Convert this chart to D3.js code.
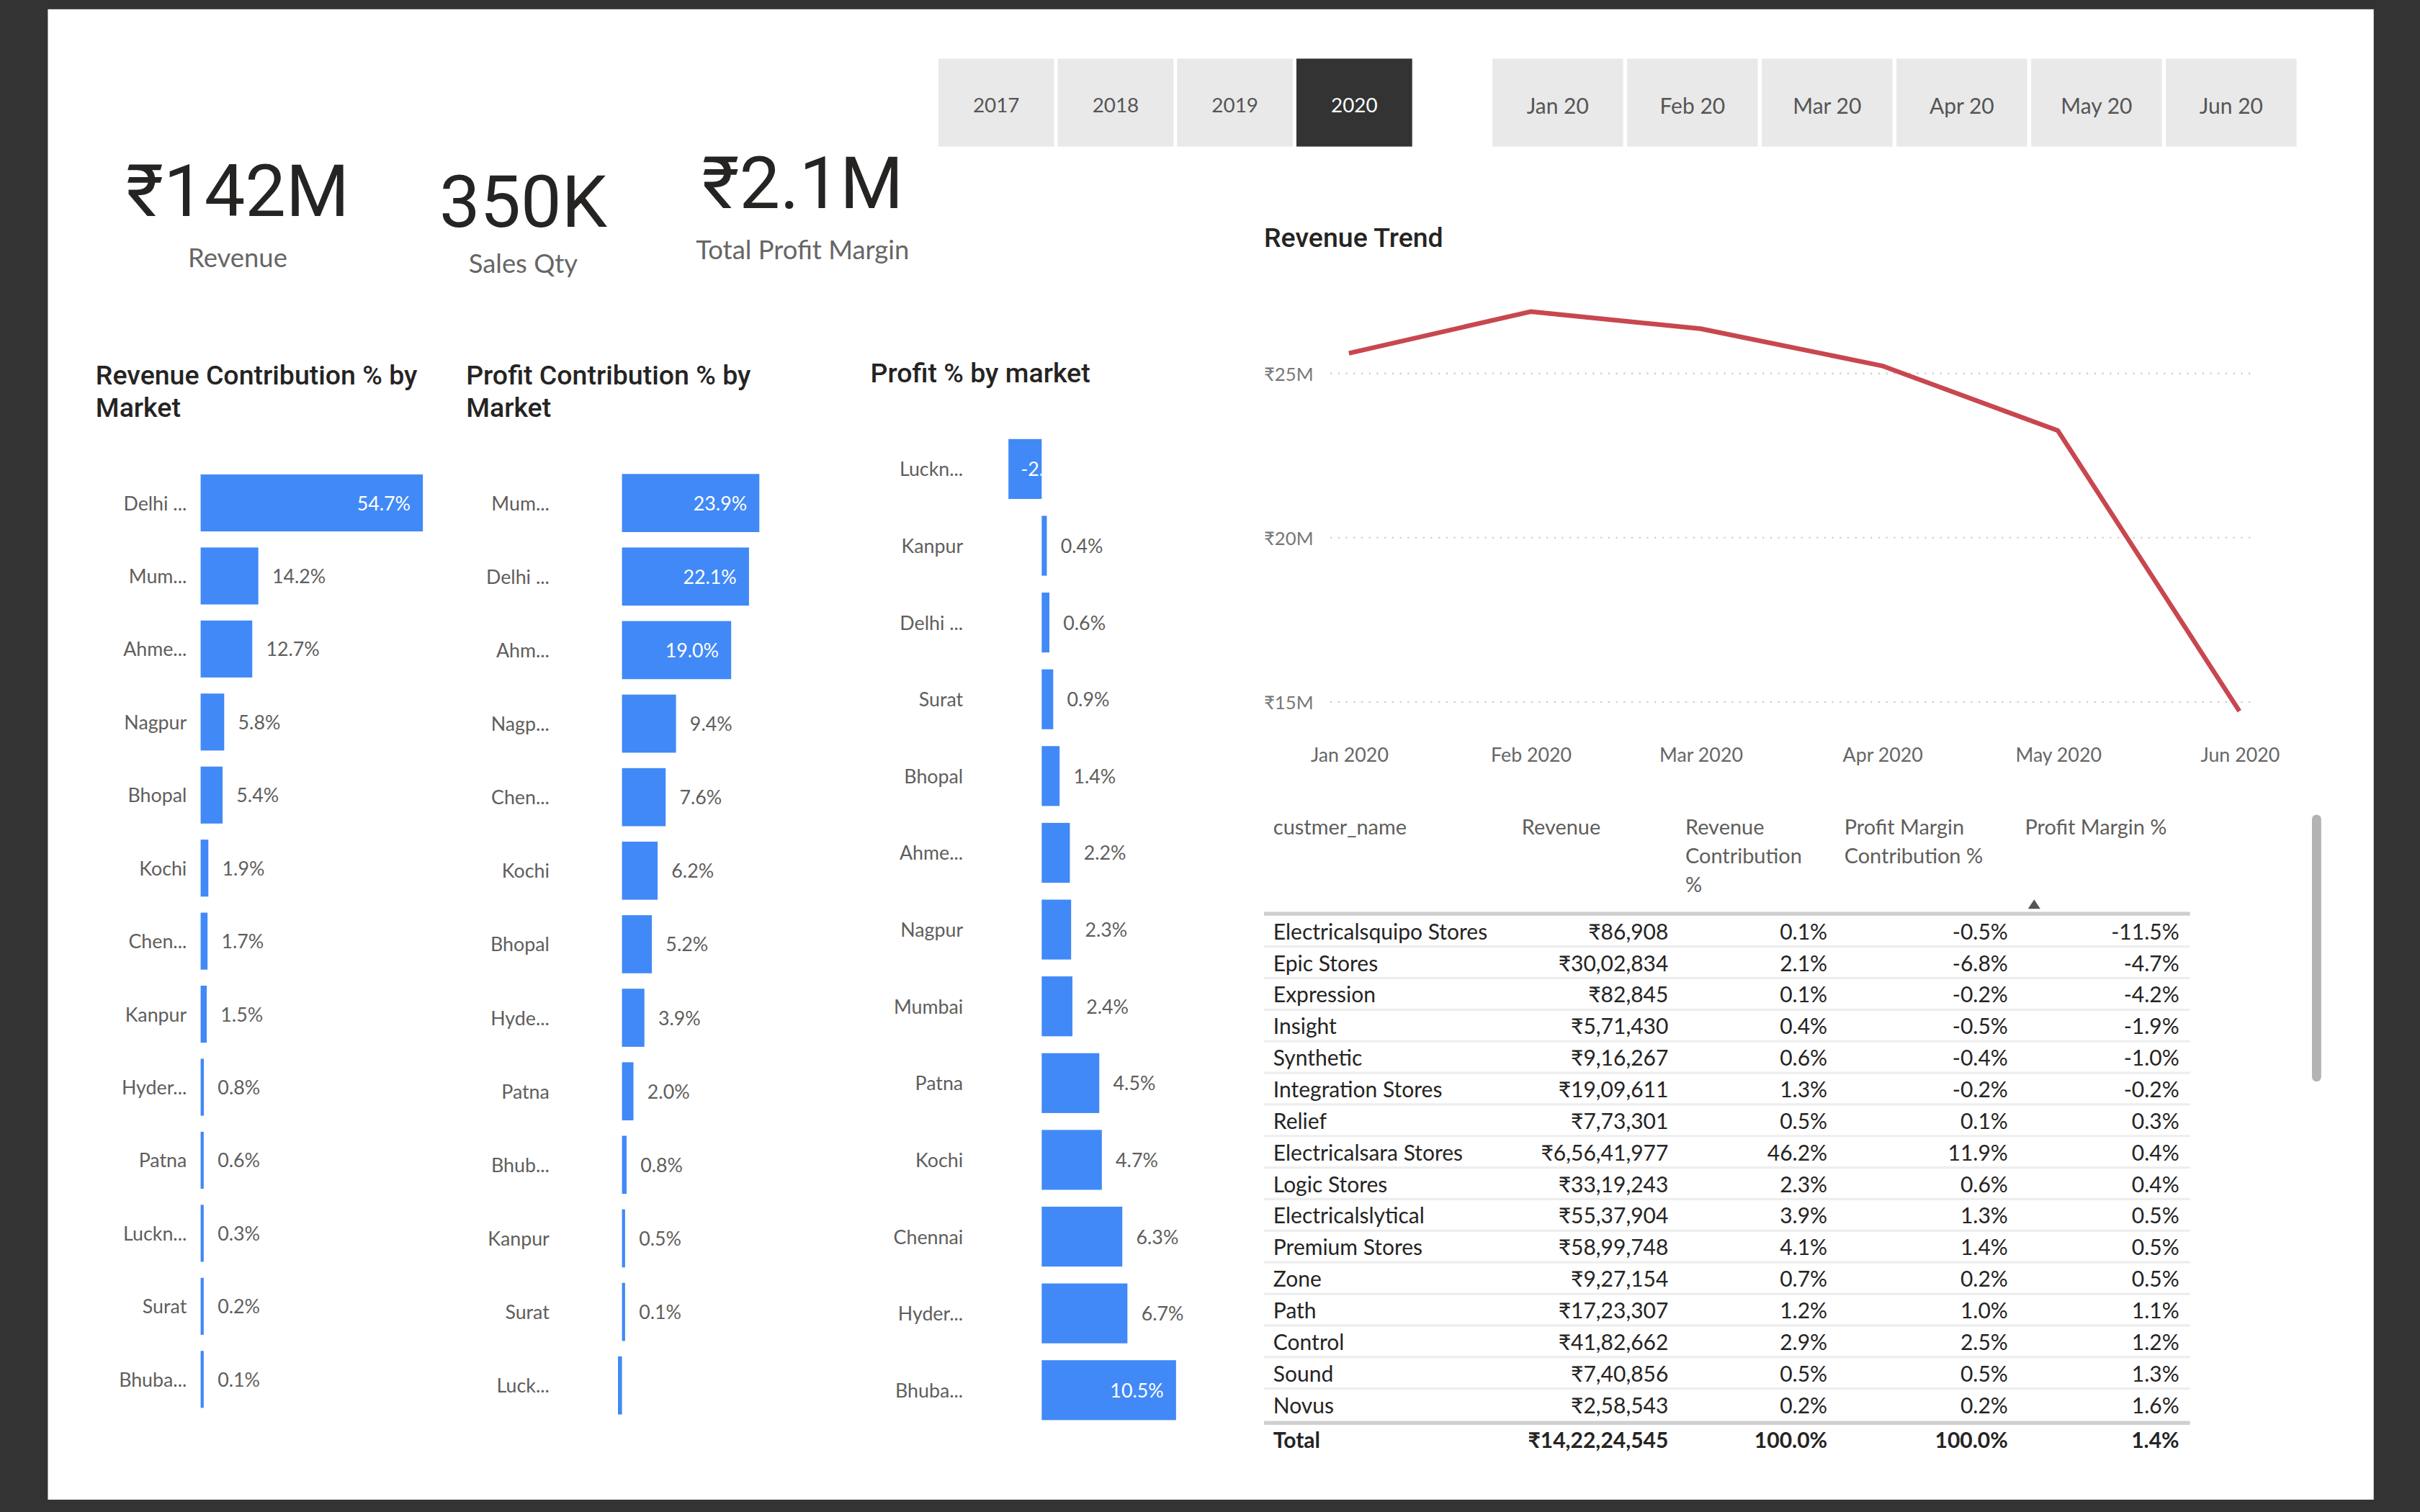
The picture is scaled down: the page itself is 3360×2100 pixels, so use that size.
<!DOCTYPE html>
<html>
<head>
<meta charset="utf-8">
<script src="https://cdnjs.cloudflare.com/ajax/libs/d3/7.8.5/d3.min.js"></script>
<style>
  html, body { margin: 0; padding: 0; background: #333333; }
  svg { display: block; }
</style>
</head>
<body>
<svg id="dash"></svg>
<script>
// slicers
const years = ["2017", "2018", "2019", "2020"];
const selectedYear = "2020";
const months = ["Jan 20", "Feb 20", "Mar 20", "Apr 20", "May 20", "Jun 20"];

// cards
const kpiValues = ["₹142M", "350K", "₹2.1M"];
const kpiLabels = ["Revenue", "Sales Qty", "Total Profit Margin"];

// bar charts
const revMarkets = ["Delhi ...", "Mum...", "Ahme...", "Nagpur", "Bhopal", "Kochi", "Chen...", "Kanpur", "Hyder...", "Patna", "Luckn...", "Surat", "Bhuba..."];
const revShare = [54.7, 14.2, 12.7, 5.8, 5.4, 1.9, 1.7, 1.5, 0.8, 0.6, 0.3, 0.2, 0.1];

const profitMarkets = ["Mum...", "Delhi ...", "Ahm...", "Nagp...", "Chen...", "Kochi", "Bhopal", "Hyde...", "Patna", "Bhub...", "Kanpur", "Surat", "Luck..."];
const profitShare = [23.9, 22.1, 19.0, 9.4, 7.6, 6.2, 5.2, 3.9, 2.0, 0.8, 0.5, 0.1, -0.7];

const marginMarkets = ["Luckn...", "Kanpur", "Delhi ...", "Surat", "Bhopal", "Ahme...", "Nagpur", "Mumbai", "Patna", "Kochi", "Chennai", "Hyder...", "Bhuba..."];
const marginPct = [-2.6, 0.4, 0.6, 0.9, 1.4, 2.2, 2.3, 2.4, 4.5, 4.7, 6.3, 6.7, 10.5];

// revenue trend
const trendMonths = ["2020-01-01", "2020-02-01", "2020-03-01", "2020-04-01", "2020-05-01", "2020-06-01"];
const trendRevenue = [25.61e6, 26.88e6, 26.36e6, 25.23e6, 23.26e6, 14.72e6];
const revTicks = [15e6, 20e6, 25e6];

// customer table
const tableHeaders = [["custmer_name"], ["Revenue"], ["Revenue", "Contribution", "%"], ["Profit Margin", "Contribution %"], ["Profit Margin %"]];
const customers = ["Electricalsquipo Stores", "Epic Stores", "Expression", "Insight", "Synthetic", "Integration Stores", "Relief", "Electricalsara Stores", "Logic Stores", "Electricalslytical", "Premium Stores", "Zone", "Path", "Control", "Sound", "Novus"];
const custRevenue = [86908, 3002834, 82845, 571430, 916267, 1909611, 773301, 65641977, 3319243, 5537904, 5899748, 927154, 1723307, 4182662, 740856, 258543];
const custRevShare = [0.1, 2.1, 0.1, 0.4, 0.6, 1.3, 0.5, 46.2, 2.3, 3.9, 4.1, 0.7, 1.2, 2.9, 0.5, 0.2];
const custProfitShare = [-0.5, -6.8, -0.2, -0.5, -0.4, -0.2, 0.1, 11.9, 0.6, 1.3, 1.4, 0.2, 1.0, 2.5, 0.5, 0.2];
const custMarginPct = [-11.5, -4.7, -4.2, -1.9, -1.0, -0.2, 0.3, 0.4, 0.4, 0.5, 0.5, 0.5, 1.1, 1.2, 1.3, 1.6];
const totalRow = ["Total", 142224545, 100.0, 100.0, 1.4];

const W = 1568, H = 980;
const uiFont = "'Segoe UI', Lato, 'Noto Sans', sans-serif";
const dinFont = "Roboto, 'DejaVu Sans', sans-serif";
const blue = "#4189f6";

const svg = d3.select("#dash")
    .attr("width", 3360).attr("height", 2100)
    .attr("viewBox", `0 0 ${W} ${H}`);
const defs = svg.append("defs");

svg.append("rect").attr("width", W).attr("height", H).attr("fill", "#333333");
svg.append("rect").attr("x", 31).attr("y", 6).attr("width", 1507).attr("height", 966).attr("fill", "#ffffff");

const loc = d3.formatLocale({decimal: ".", thousands: ",", grouping: [3], currency: ["₹", ""], minus: "-"});
const pct = v => loc.format(".1f")(v) + "%";
// indian digit grouping: 14,22,24,545
function inr(n) {
    let s = String(Math.round(n));
    if (s.length <= 3) return "₹" + s;
    let last = s.slice(-3), rest = s.slice(0, -3);
    rest = rest.replace(/\B(?=(\d{2})+(?!\d))/g, ",");
    return "₹" + rest + "," + last;
}

// year slicer
const yearX = d3.scaleBand().domain(years).range([608, 915]).paddingInner(0.03);
svg.append("g").selectAll("g").data(years).join("g").each(function (d) {
    const g = d3.select(this), sel = d === selectedYear;
    g.append("rect").attr("x", yearX(d)).attr("y", 38).attr("width", yearX.bandwidth()).attr("height", 57)
        .attr("fill", sel ? "#333333" : "#e9e9e9");
    g.append("text").attr("x", yearX(d) + yearX.bandwidth() / 2).attr("y", 68)
        .attr("text-anchor", "middle").attr("dominant-baseline", "central")
        .attr("font-family", uiFont).attr("font-size", 13)
        .attr("fill", sel ? "#ffffff" : "#555555").text(d);
});

// month slicer
const monthX = d3.scaleBand().domain(months).range([967, 1488]).paddingInner(0.03);
svg.append("g").selectAll("g").data(months).join("g").each(function (d) {
    const g = d3.select(this);
    g.append("rect").attr("x", monthX(d)).attr("y", 38).attr("width", monthX.bandwidth()).attr("height", 57)
        .attr("fill", "#e9e9e9");
    g.append("text").attr("x", monthX(d) + monthX.bandwidth() / 2).attr("y", 68)
        .attr("text-anchor", "middle").attr("dominant-baseline", "central")
        .attr("font-family", uiFont).attr("font-size", 14)
        .attr("fill", "#555555").text(d);
});

// cards
const cardPos = [{x: 154, vy: 140, ly: 173}, {x: 339, vy: 147, ly: 177}, {x: 520, vy: 135, ly: 168}];
kpiValues.forEach((v, i) => {
    const p = cardPos[i];
    svg.append("text").attr("x", p.x).attr("y", p.vy).attr("text-anchor", "middle")
        .attr("font-family", dinFont).attr("font-size", 47).attr("font-weight", 400)
        .attr("fill", "#252423").text(v);
    svg.append("text").attr("x", p.x).attr("y", p.ly).attr("text-anchor", "middle")
        .attr("font-family", uiFont).attr("font-size", 17)
        .attr("fill", "#666666").text(kpiLabels[i]);
});

function title(lines, x, y) {
    const t = svg.append("text").attr("font-family", dinFont).attr("font-size", 17.5)
        .attr("font-weight", 500).attr("fill", "#252423");
    lines.forEach((l, i) => t.append("tspan").attr("x", x).attr("y", y + i * 21).text(l));
}

let clipId = 0;
function barChart(cfg) {
    const {labels, values} = cfg;
    title(cfg.title, cfg.titleX, cfg.titleY);
    const idx = d3.range(values.length);
    const x = d3.scaleLinear().domain([Math.min(0, d3.min(values)), d3.max(values)]).range([cfg.left, cfg.right]);
    const y = d3.scaleBand().domain(idx).range([cfg.top, cfg.bottom])
        .paddingInner(cfg.pad).paddingOuter(cfg.pad / 2);
    const g = svg.append("g");

    g.selectAll("text.cat").data(idx).join("text")
        .attr("x", cfg.labelX).attr("y", i => y(i) + y.bandwidth() / 2)
        .attr("text-anchor", "end").attr("dominant-baseline", "central")
        .attr("font-family", uiFont).attr("font-size", 12.5).attr("fill", "#605e5c")
        .text(i => labels[i]);

    idx.forEach(i => {
        const v = values[i];
        const x0 = x(Math.min(0, v));
        const w = Math.max(2, Math.abs(x(v) - x(0)));
        const yy = y(i), bh = y.bandwidth();
        g.append("rect").attr("x", x0).attr("y", yy).attr("width", w).attr("height", bh).attr("fill", blue);
        const lab = g.append("text").attr("y", yy + bh / 2).attr("dominant-baseline", "central")
            .attr("font-family", uiFont).attr("font-size", 12.5).text(pct(v));
        if (v < 0) {
            const id = "clip" + (clipId++);
            defs.append("clipPath").attr("id", id).append("rect")
                .attr("x", x0).attr("y", yy).attr("width", w).attr("height", bh);
            lab.attr("x", x0 + 8).attr("text-anchor", "start").attr("fill", "#ffffff")
                .attr("clip-path", `url(#${id})`);
        } else if (w > 60) {
            lab.attr("x", x(v) - 8).attr("text-anchor", "end").attr("fill", "#ffffff");
        } else {
            lab.attr("x", x0 + w + 9).attr("text-anchor", "start").attr("fill", "#605e5c");
        }
    });
}

barChart({title: ["Revenue Contribution % by", "Market"], titleX: 62, titleY: 249,
    labels: revMarkets, values: revShare,
    left: 130, right: 274, top: 302.3, bottom: 917.7, pad: 0.22, labelX: 121});
barChart({title: ["Profit Contribution % by", "Market"], titleX: 302, titleY: 249,
    labels: profitMarkets, values: profitShare,
    left: 400.4, right: 492, top: 302.2, bottom: 921.8, pad: 0.21, labelX: 356});
barChart({title: ["Profit % by market"], titleX: 564, titleY: 248,
    labels: marginMarkets, values: marginPct,
    left: 653.4, right: 762, top: 279.1, bottom: 925.9, pad: 0.22, labelX: 624});

// revenue trend line
title(["Revenue Trend"], 819, 160);
const parse = d3.timeParse("%Y-%m-%d");
const dates = trendMonths.map(parse);
const tx = d3.scaleTime().domain(d3.extent(dates)).range([874, 1451]);
const ty = d3.scaleLinear().domain([15e6, 25e6]).range([455, 242]);
const lg = svg.append("g");
lg.selectAll("line.grid").data(revTicks).join("line")
    .attr("x1", 862).attr("x2", 1460).attr("y1", d => ty(d)).attr("y2", d => ty(d))
    .attr("stroke", "#c8c8c8").attr("stroke-width", 1).attr("stroke-dasharray", "1,4");
lg.selectAll("text.yt").data(revTicks).join("text")
    .attr("x", 851).attr("y", d => ty(d)).attr("text-anchor", "end").attr("dominant-baseline", "central")
    .attr("font-family", uiFont).attr("font-size", 12).attr("fill", "#777777")
    .text(d => "₹" + d / 1e6 + "M");
const xAxis = d3.axisBottom(tx).tickValues(dates).tickFormat(d3.timeFormat("%b %Y")).tickSize(0).tickPadding(0);
const xg = lg.append("g").attr("transform", "translate(0,489)").call(xAxis);
xg.select(".domain").remove();
xg.selectAll("text").attr("dy", null).attr("dominant-baseline", "central")
    .attr("font-family", uiFont).attr("font-size", 12.5).attr("fill", "#666666");
lg.append("path").datum(dates.map((d, i) => [d, trendRevenue[i]]))
    .attr("fill", "none").attr("stroke", "#c8474f").attr("stroke-width", 3)
    .attr("stroke-linejoin", "round")
    .attr("d", d3.line().x(d => tx(d[0])).y(d => ty(d[1])));

// table
const colLeft = [825, 986, 1092, 1195, 1312];
const colRight = [null, 1081, 1184, 1301, 1412];
const tg = svg.append("g");
tableHeaders.forEach((lines, c) => {
    const t = tg.append("text").attr("font-family", uiFont).attr("font-size", 13.5).attr("fill", "#605e5c");
    lines.forEach((l, k) => t.append("tspan").attr("x", colLeft[c]).attr("y", 541 + k * 18.5).text(l));
});
tg.append("path").attr("d", "M1314,589 L1322,589 L1318,583 Z").attr("fill", "#555555");
tg.append("rect").attr("x", 819).attr("y", 591).attr("width", 600).attr("height", 2.5).attr("fill", "#cfcfcf");

const rowY = d3.scaleBand().domain(d3.range(customers.length)).range([593, 920.5]);
const rows = customers.map((n, i) => [n, inr(custRevenue[i]), pct(custRevShare[i]), pct(custProfitShare[i]), pct(custMarginPct[i])]);
rows.forEach((r, i) => {
    const cy = rowY(i) + rowY.bandwidth() / 2;
    if (i < rows.length - 1)
        tg.append("line").attr("x1", 819).attr("x2", 1419).attr("y1", rowY(i) + rowY.bandwidth()).attr("y2", rowY(i) + rowY.bandwidth())
            .attr("stroke", "#eeeeee").attr("stroke-width", 1.5);
    r.forEach((cell, c) => {
        tg.append("text").attr("x", c === 0 ? colLeft[0] : colRight[c]).attr("y", cy)
            .attr("text-anchor", c === 0 ? "start" : "end").attr("dominant-baseline", "central")
            .attr("font-family", uiFont).attr("font-size", 14).attr("fill", "#252423").text(cell);
    });
});
tg.append("rect").attr("x", 819).attr("y", 921).attr("width", 600).attr("height", 2.5).attr("fill", "#cfcfcf");
const totals = [totalRow[0], inr(totalRow[1]), pct(totalRow[2]), pct(totalRow[3]), pct(totalRow[4])];
totals.forEach((cell, c) => {
    tg.append("text").attr("x", c === 0 ? colLeft[0] : colRight[c]).attr("y", 933)
        .attr("text-anchor", c === 0 ? "start" : "end").attr("dominant-baseline", "central")
        .attr("font-family", uiFont).attr("font-size", 14).attr("font-weight", 700)
        .attr("fill", "#252423").text(cell);
});

// scrollbar
svg.append("rect").attr("x", 1498).attr("y", 528).attr("width", 6).attr("height", 173).attr("rx", 3)
    .attr("fill", "#b3b3b3");
</script>
</body>
</html>
